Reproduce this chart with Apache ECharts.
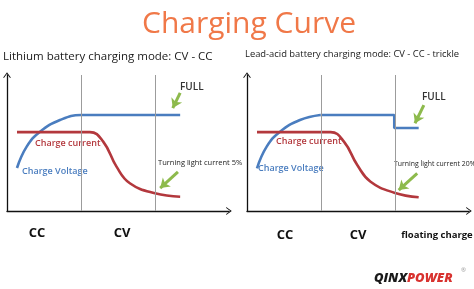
<!DOCTYPE html>
<html><head><meta charset="utf-8">
<script src="https://cdn.jsdelivr.net/npm/echarts@6/dist/echarts.min.js"></script>
<style>html,body{margin:0;padding:0;background:#fff}#c{width:474px;height:289px}</style>
</head><body><div id="c"></div>
<script>
// ---- data (x: charging phase units, y: relative level) ----
const liVoltage = [[0.135,3.16],[0.266,4.73],[0.446,5.83],[0.716,6.69],[1.0,7.06],[2.34,7.06]];
const liCurrent = [[0.135,5.8],[1.12,5.8],[1.30,5.10],[1.48,3.26],[1.66,2.04],[2.0,1.30],[2.34,1.05]];
const laVoltageRise = [[0.135,3.14],[0.266,4.73],[0.446,5.83],[0.716,6.69],[0.99,7.06]];
const laVoltageFloat = [[0.99,7.06],[1.99,7.06],[1.99,6.1],[2.32,6.1]];
const laCurrent = [[0.135,5.8],[1.13,5.8],[1.31,5.10],[1.49,3.38],[1.67,2.15],[1.99,1.35],[2.32,1.01]];
const phaseBounds = [1, 2];
const liArrows = [[[2.34,8.68],[2.24,7.57]], [[2.31,2.87],[2.07,1.69]]];
const laArrows = [[[2.39,7.79],[2.27,6.45]], [[2.30,2.77],[2.05,1.54]]];
const phaseLabelsLi = ['CC', 'CV'];
const phaseLabelsLa = ['CC', 'CV', 'floating charge'];

const BLUE = '#4a7dbf', RED = '#b3383d', GREEN = '#8dba4c', GRID = '#9c9c9c';
const FONT = '"Open Sans", "Noto Sans", sans-serif';
const chevron = 'path://M5,0 L10,7 L8.6,7 L5,2 L1.4,7 L0,7 Z';

const chart = echarts.init(document.getElementById('c'), null, {renderer: 'canvas'});

function xAx(i) {
  return {type: 'value', gridIndex: i, min: 0, max: 3,
    axisLine: {show: true, onZero: false, lineStyle: {color: '#111', width: 1.3}, symbol: ['none', chevron], symbolSize: [8, 7]},
    axisTick: {show: false}, axisLabel: {show: false}, splitLine: {show: false}};
}
function yAx(i) {
  return {type: 'value', gridIndex: i, min: 0, max: 10,
    axisLine: {show: true, onZero: false, lineStyle: {color: '#111', width: 1.3}, symbol: ['none', chevron], symbolSize: [8, 7]},
    axisTick: {show: false}, axisLabel: {show: false}, splitLine: {show: false}};
}
function lineS(i, data, color, smooth) {
  return {type: 'line', xAxisIndex: i, yAxisIndex: i, data: data, smooth: smooth ? 0.45 : false,
    showSymbol: false, symbol: 'none', z: 3,
    lineStyle: {color: color, width: 2.6}, silent: true, animation: false};
}
function guideS(i) {
  return {type: 'line', xAxisIndex: i, yAxisIndex: i, data: [], z: 1, silent: true, animation: false,
    markLine: {silent: true, animation: false, symbol: 'none', label: {show: false},
      lineStyle: {color: GRID, width: 1, type: 'solid'},
      data: phaseBounds.map(v => ({xAxis: v}))}};
}
function arrowS(i, arrows) {
  return {type: 'line', xAxisIndex: i, yAxisIndex: i, data: [], z: 5, silent: true, animation: false,
    markLine: {silent: true, animation: false, symbol: ['none', 'arrow'], symbolSize: [9, 9], label: {show: false},
      lineStyle: {color: GREEN, width: 3, type: 'solid'},
      data: arrows.map(a => [{coord: a[0]}, {coord: a[1]}])}};
}
function txt(text, x, y, size, color, weight, align) {
  return {type: 'text', x: x, y: y, silent: true,
    style: {text: text, fill: color, font: (weight || 'normal') + ' ' + size + 'px ' + FONT,
      textAlign: align || 'left', textVerticalAlign: 'middle'}};
}

chart.setOption({
  animation: false,
  backgroundColor: '#fff',
  grid: [
    {left: 7, top: 75, width: 222, height: 136},
    {left: 247, top: 75, width: 222, height: 136}
  ],
  xAxis: [xAx(0), xAx(1)],
  yAxis: [yAx(0), yAx(1)],
  series: [
    guideS(0), guideS(1),
    lineS(0, liVoltage, BLUE, true),
    lineS(0, liCurrent, RED, true),
    lineS(1, laVoltageRise, BLUE, true),
    lineS(1, laVoltageFloat, BLUE, false),
    lineS(1, laCurrent, RED, true),
    arrowS(0, liArrows), arrowS(1, laArrows)
  ],
  graphic: [
    txt('Charging Curve', 249, 24, 30, '#f07848', 'normal', 'center'),
    txt('Lithium battery charging mode: CV - CC', 3, 57, 11.5, '#1a1a1a'),
    txt('Lead-acid battery charging mode: CV - CC - trickle', 245, 54, 9.4, '#1a1a1a'),
    txt('FULL', 180, 87, 10, '#333', '600'),
    txt('Charge current', 35, 143, 9, RED, '600'),
    txt('Charge Voltage', 22, 171, 9, BLUE, '600'),
    txt('Turning light current 5%', 158, 163, 7.5, '#222'),
    txt('FULL', 422, 97, 10, '#333', '600'),
    txt('Charge current', 276, 141, 9, RED, '600'),
    txt('Charge Voltage', 258, 168, 9, BLUE, '600'),
    txt('Turning light current 20%', 394, 164, 6.9, '#222'),
    txt(phaseLabelsLi[0], 37, 233, 13, '#111', 'bold', 'center'),
    txt(phaseLabelsLi[1], 122, 233, 13, '#111', 'bold', 'center'),
    txt(phaseLabelsLa[0], 285, 235, 13, '#111', 'bold', 'center'),
    txt(phaseLabelsLa[1], 358, 235, 13, '#111', 'bold', 'center'),
    txt(phaseLabelsLa[2], 437, 235, 9.5, '#111', 'bold', 'center'),
    txt('QINX', 407, 278, 13, '#1a1a1a', 'italic 900', 'right'),
    txt('POWER', 407, 278, 13, '#d8322f', 'italic 900', 'left'),
    txt('®', 461, 270, 6, '#999')
  ]
});
</script></body></html>
